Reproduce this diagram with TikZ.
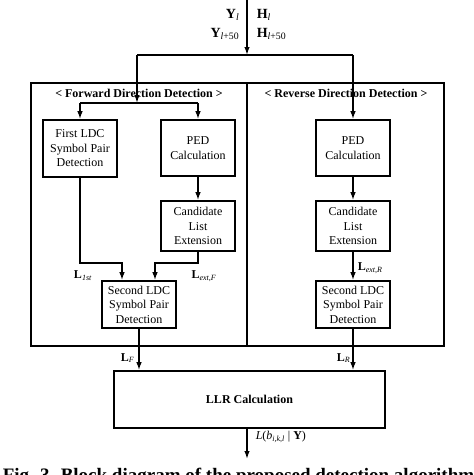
\documentclass[tikz,border=0pt]{standalone}
\usepackage{fontspec}
\setmainfont{Liberation Serif}
\usetikzlibrary{arrows.meta}
\begin{document}
\begin{tikzpicture}[x=1pt,y=-1pt,
  line width=1.5pt,
  arr/.style={-{Latex[length=8pt,width=5.5pt]}},
  blk/.style={draw,line width=1.6pt,minimum width=74pt,align=center,inner sep=0pt,
     font=\fontsize{12}{14.5}\selectfont},
  ttl/.style={font=\fontsize{12}{14}\selectfont\bfseries,inner sep=0pt},
  lbl/.style={font=\fontsize{12}{14}\selectfont,inner sep=0pt},
  inl/.style={font=\fontsize{14}{16}\selectfont,inner sep=0pt}]
\clip (0,0) rectangle (474,475);
\fill[white] (0,0) rectangle (474,475);
% frames
\draw[line width=1.6pt] (31,83) rectangle (247,346);
\draw[line width=1.6pt] (247,83) rectangle (444,346);
\node[ttl] (tF) at (139,93) {< Forward Direction Detection >};
\node[ttl] (tR) at (346,93) {< Reverse Direction Detection >};
% boxes
\node[blk,minimum height=57pt] (first) at (80,148.5) {First LDC\\Symbol Pair\\Detection};
\node[blk,minimum height=56pt] (pedF) at (198,148) {PED\\Calculation};
\node[blk,minimum height=50pt] (candF) at (198,226) {Candidate\\List\\Extension};
\node[blk,minimum height=47pt] (secF) at (139,304.5) {Second LDC\\Symbol Pair\\Detection};
\node[blk,minimum height=56pt] (pedR) at (353,148) {PED\\Calculation};
\node[blk,minimum height=50pt] (candR) at (353,226) {Candidate\\List\\Extension};
\node[blk,minimum height=47pt] (secR) at (353,304.5) {Second LDC\\Symbol Pair\\Detection};
\node[blk,minimum width=271pt,minimum height=57pt,font=\fontsize{12}{14}\selectfont\bfseries] (llr) at (249.5,399.5) {LLR Calculation};
% input
\coordinate (in) at (247,-2);
\coordinate (sp) at (247,55);
\coordinate (spL) at (137,55);
\coordinate (spR) at (353,55);
\coordinate (brF) at (137,103);
\coordinate (brL) at (80,103);
\coordinate (brR) at (198,103);
\draw[arr] (in) -- (sp);
\draw (spL) -- (spR);
\draw[arr] (spL) -- (brF);
\draw (brL) -- (brR);
\draw[arr] (brL) -- (first.north);
\draw[arr] (brR) -- (pedF.north);
\draw[arr] (spR) -- (pedR.north);
\node[inl,anchor=east] (y1) at (240,15) {\textbf{Y}\textsubscript{\textit{l}}};
\node[inl,anchor=east] (y2) at (240,34) {\textbf{Y}\textsubscript{\textit{l}+50}};
\node[inl,anchor=west] (h1) at (256,15) {\textbf{H}\textsubscript{\textit{l}}};
\node[inl,anchor=west] (h2) at (256,34) {\textbf{H}\textsubscript{\textit{l}+50}};
% forward
\draw[arr] (pedF) -- (candF);
\draw[arr] (first.south) |- (122,263) -- (secF.north -| 122,0);
\draw[arr] (candF.south) |- (155,263) -- (secF.north -| 155,0);
\node[lbl] (l1) at (83,276) {\textbf{L}\textsubscript{\textit{1st}}};
\node[lbl] (l2) at (204,276) {\textbf{L}\textsubscript{\textit{ext,F}}};
% reverse
\draw[arr] (pedR) -- (candR);
\draw[arr] (candR) -- (secR);
\node[lbl,anchor=west] (l3) at (357,268) {\textbf{L}\textsubscript{\textit{ext,R}}};
% to LLR
\draw[arr] (secF.south) -- (secF.south |- llr.north);
\draw[arr] (secR.south) -- (secR.south |- llr.north);
\node[lbl,anchor=east] (lf) at (135,358) {\textbf{L}\textsubscript{\textit{F}}};
\node[lbl,anchor=east] (lr) at (351,358) {\textbf{L}\textsubscript{\textit{R}}};
% output
\coordinate (out) at (247,459);
\draw[arr] (llr.south -| out) -- (out);
\node[lbl,anchor=west] (lo) at (255,437) {\textit{L}(\textit{b}\textsubscript{\textit{i,k,l}} | \textbf{Y})};
% caption
\node[anchor=base west,inner sep=0pt,font=\fontsize{19}{22}\selectfont\bfseries] (cap) at (2,481) {Fig. 3. Block diagram of the proposed detection algorithm};
\end{tikzpicture}
\end{document}
